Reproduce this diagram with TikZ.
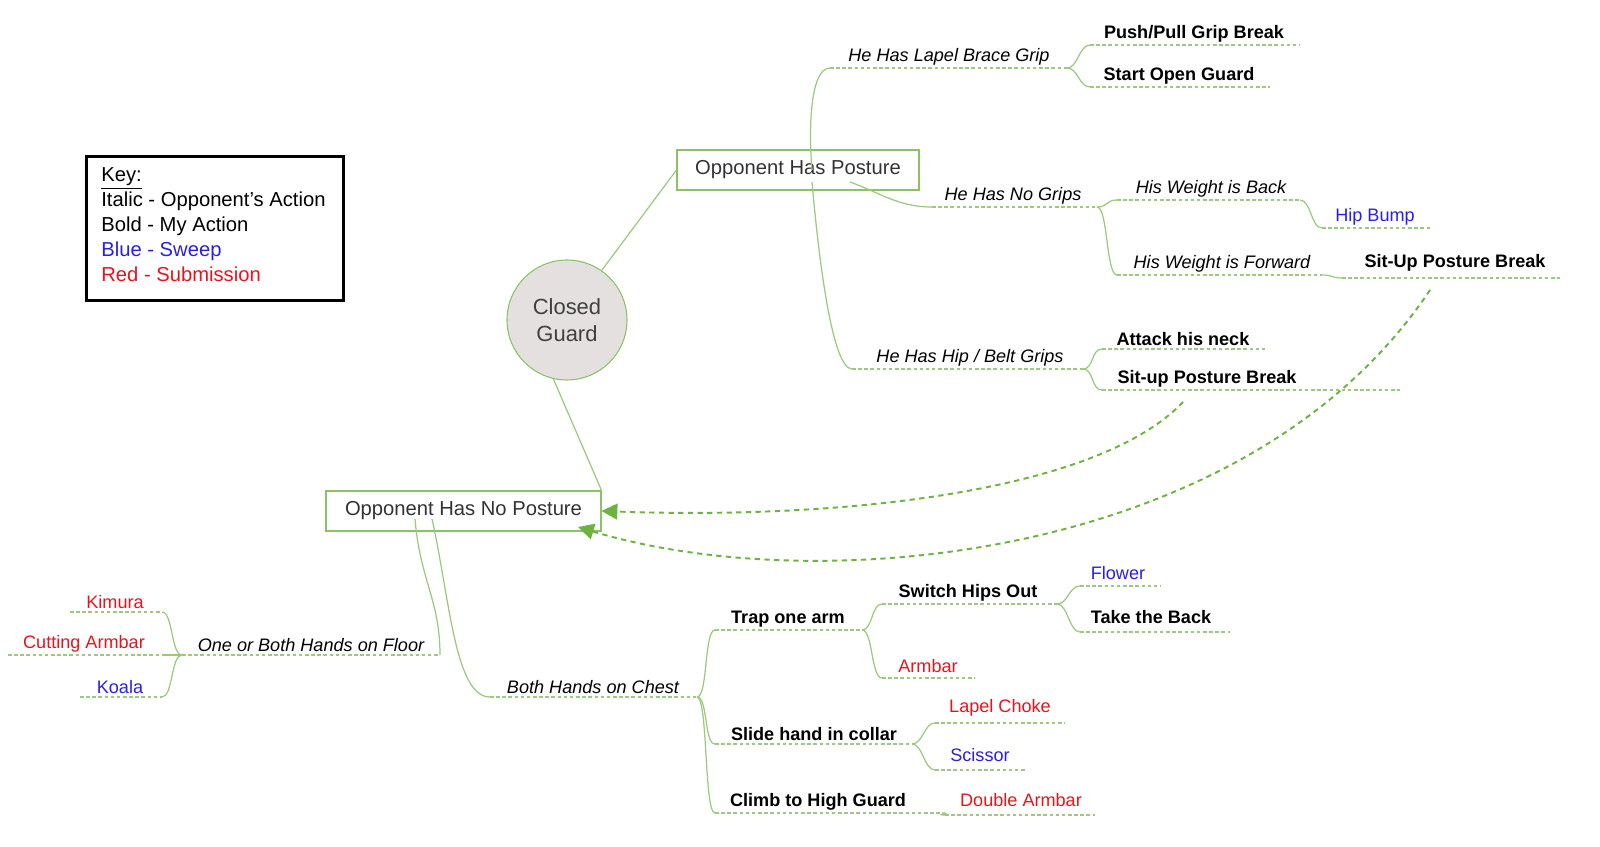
\documentclass[tikz,border=0pt]{standalone}
\usepackage{fontspec}
\setmainfont{Liberation Sans}
\usetikzlibrary{arrows.meta}
\definecolor{gl}{HTML}{9CC97E}
\definecolor{ga}{HTML}{6DB33F}
\definecolor{bl}{HTML}{2A1FE6}
\definecolor{rd}{HTML}{E8141C}
\definecolor{cg}{HTML}{E4E0E0}
\tikzset{
  br/.style={draw=gl, line width=0.7pt},
  ul/.style={draw=gl, line width=0.7pt, dash pattern=on 2pt off 1.5pt},
  tx/.style={anchor=south, inner sep=1.5pt, font=\fontsize{10.3}{12}\selectfont},
  op/.style={tx, font=\fontsize{10.3}{12}\selectfont\itshape},
  my/.style={tx, font=\fontsize{10.3}{12}\selectfont\bfseries},
  sw/.style={tx, text=bl},
  sb/.style={tx, text=rd},
  bx/.style={draw=ga!80, line width=0.6pt, font=\fontsize{11.5}{14}\selectfont, text=black!80, inner sep=0pt},
  cv/.style={br, out=0, in=180, out distance=0.22cm, in distance=0.22cm},
  cvl/.style={br, out=180, in=0, out distance=0.22cm, in distance=0.22cm},
  da/.style={draw=ga, line width=1.1pt, dash pattern=on 3pt off 2.5pt, -{Triangle[length=9pt,width=9pt]}}
}
\begin{document}
\begin{tikzpicture}[x=0.02cm,y=-0.02cm]
\useasboundingbox (0,0) rectangle (1600,847);
\fill[white] (0,0) rectangle (1600,847);
% key
\node[draw=black, line width=1.5pt, anchor=north west, minimum width=257*0.02cm, minimum height=144*0.02cm, inner sep=0pt] (key) at (85,155) {};
\node[anchor=north west, align=left, font=\fontsize{11.5}{14.2}\selectfont, inner sep=0pt] (keyt) at (101,167) {\underline{Key:}\\ Italic - Opponent's Action\\ Bold - My Action\\ \textcolor{bl}{Blue - Sweep}\\ \textcolor{rd}{Red - Submission}};
% center
\node[circle, draw=ga!80, fill=cg, line width=0.6pt, minimum size=120*0.02cm, align=center, font=\fontsize{12.5}{15}\selectfont, text=black!75, inner sep=0pt] (cg) at (567,320) {Closed\\Guard};
\node[bx, minimum width=242*0.02cm, minimum height=40*0.02cm] (pos) at (798,170) {Opponent Has Posture};
\node[bx, minimum width=275*0.02cm, minimum height=40*0.02cm] (nop) at (463.5,511) {Opponent Has No Posture};
\draw[br] (cg.55) -- (pos.west);
\draw[br] (cg.-103) -- (nop.north east);
% posture branches
\coordinate (p1) at (812,170); \coordinate (p2) at (850,182); \coordinate (p3) at (812,182);
\draw[ul] (830,68) -- (1067,68); \node[op] (lap) at (949,68) {He Has Lapel Brace Grip};
\draw[br] (p1) to[out=95,in=180,in distance=0.4cm] (830,68);
\draw[ul] (932,207) -- (1097,207); \node[op] (ng) at (1013,207) {He Has No Grips};
\draw[br] (p2) to[out=-20,in=180] (932,207);
\draw[ul] (852,369) -- (1083,369); \node[op] (hip) at (970,369) {He Has Hip / Belt Grips};
\draw[br] (p3) to[out=-85,in=180,in distance=0.4cm] (852,369);
% lapel children
\draw[ul] (1090,45) -- (1300,45); \node[my] (pp) at (1194,45) {Push/Pull Grip Break};
\draw[ul] (1090,87) -- (1270,87); \node[my] (sog) at (1179,87) {Start Open Guard};
\draw[cv] (1067,68) to (1090,45); \draw[cv] (1067,68) to (1090,87);
% no grips children
\draw[ul] (1117,200) -- (1300,200); \node[op] (wb) at (1211,200) {His Weight is Back};
\draw[ul] (1117,275) -- (1322,275); \node[op] (wf) at (1222,275) {His Weight is Forward};
\draw[cv] (1097,207) to (1117,200); \draw[cv] (1097,207) to (1117,275);
\draw[ul] (1322,228) -- (1430,228); \node[sw] (hb) at (1375,228) {Hip Bump};
\draw[cv] (1300,200) to (1322,228);
\draw[ul] (1342,278) -- (1560,278); \node[my] (sup) at (1455,274) {Sit-Up Posture Break};
\draw[cv] (1322,275) to (1342,278);
% hip children
\draw[ul] (1102,349) -- (1265,349); \node[my] (an) at (1183,349) {Attack his neck};
\draw[ul] (1102,390) -- (1400,390); \node[my] (spb) at (1207,390) {Sit-up Posture Break};
\draw[cv] (1083,369) to (1102,349); \draw[cv] (1083,369) to (1102,390);
% dashed arrows
\coordinate (a1) at (1183,402); \coordinate (a2) at (1430,290);
\draw[da] (a1) .. controls (1100,490) and (850,520) .. (nop.east);
\draw[da] (a2) .. controls (1250,560) and (820,600) .. (578,527);
% no posture branches
\coordinate (n1) at (415,519); \coordinate (n2) at (432,519);
\draw[ul] (182,655) -- (440,655); \node[op] (fl) at (311,655) {One or Both Hands on Floor};
\draw[br] (n1) .. controls (420,580) and (440,600) .. (440,655);
\draw[ul] (490,697) -- (697,697); \node[op] (ch) at (593,697) {Both Hands on Chest};
\draw[br] (n2) .. controls (450,600) and (455,697) .. (490,697);
\draw[ul] (70,612) -- (162,612); \node[sb] (ki) at (115,612) {Kimura};
\draw[ul] (8,655) -- (162,655); \node[sb] (ca) at (84,655) {Cutting Armbar};
\draw[ul] (80,697) -- (162,697); \node[sw] (ko) at (120,697) {Koala};
\draw[cvl] (182,655) to (162,612); \draw[cvl] (182,655) to (162,655); \draw[cvl] (182,655) to (162,697);
% chest children
\draw[ul] (715,630) -- (862,630); \node[my] (to) at (788,630) {Trap one arm};
\draw[ul] (715,744) -- (912,744); \node[my] (sh) at (814,744) {Slide hand in collar};
\draw[ul] (715,813) -- (942,813); \node[my] (cl) at (818,813) {Climb to High Guard};
\draw[cv] (697,697) to (715,630); \draw[cv] (697,697) to (715,744); \draw[cv] (697,697) to (715,813);
\draw[ul] (882,604) -- (1057,604); \node[my] (shx) at (968,604) {Switch Hips Out};
\draw[ul] (882,678) -- (975,678); \node[sb] (ab) at (928,676) {Armbar};
\draw[cv] (862,630) to (882,604); \draw[cv] (862,630) to (882,678);
\draw[ul] (1080,586) -- (1160,586); \node[sw] (fw) at (1118,583) {Flower};
\draw[ul] (1080,632) -- (1230,632); \node[my] (tb) at (1151,627) {Take the Back};
\draw[cv] (1057,604) to (1080,586); \draw[cv] (1057,604) to (1080,632);
\draw[ul] (935,723) -- (1065,723); \node[sb] (lc) at (1000,719) {Lapel Choke};
\draw[ul] (935,770) -- (1025,770); \node[sw] (sc) at (980,765) {Scissor};
\draw[cv] (912,744) to (935,723); \draw[cv] (912,744) to (935,770);
\draw[ul] (945,815) -- (1095,815); \node[sb] (da2) at (1021,810) {Double Armbar};
\draw[cv] (942,813) to (945,815);
\end{tikzpicture}
\end{document}
